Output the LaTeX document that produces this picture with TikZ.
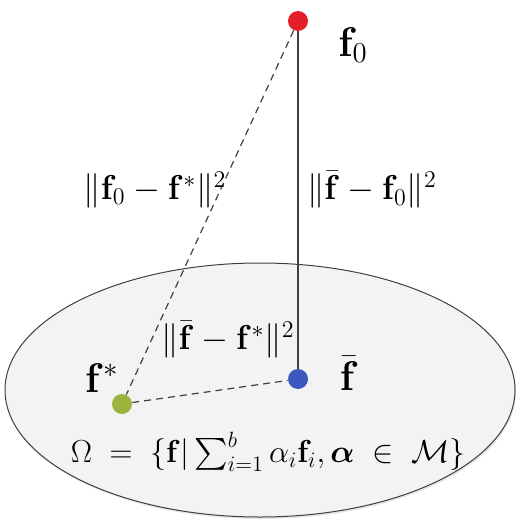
\documentclass[tikz,border=0pt]{standalone}
\usepackage{amsmath,amssymb,bm}
\definecolor{dotred}{HTML}{E3202A}
\definecolor{dotblue}{HTML}{3A58BE}
\definecolor{dotgreen}{HTML}{9AB43E}
\definecolor{planefill}{HTML}{F3F3F3}
\definecolor{lineg}{HTML}{404040}
\tikzset{
  pt/.style={circle,inner sep=0pt,minimum width=9pt,minimum height=10pt},
  lbl/.style={inner sep=0pt,font=\fontsize{17.28}{20}\selectfont},
  biglbl/.style={inner sep=0pt,font=\fontsize{20.74}{24}\selectfont},
  conn/.style={draw=lineg,line width=0.6pt},
  dconn/.style={conn,dashed,dash pattern=on 3.5pt off 2.5pt}
}
\begin{document}
\begin{tikzpicture}[x=0.5pt,y=-0.5pt]
\useasboundingbox (0,0) rectangle (530,530);
\fill[black!10] (261,392) ellipse [x radius=255,y radius=127];
\filldraw[fill=planefill,draw=lineg,line width=0.5pt] (260,390) ellipse [x radius=255,y radius=127];
\node[pt,fill=dotred] (f0) at (298,21) {};
\node[pt,fill=dotblue] (fb) at (298,379) {};
\node[pt,fill=dotgreen] (fs) at (122,404) {};
\draw[conn] (f0) -- (fb);
\draw[dconn] (f0) -- (fs);
\draw[dconn] (fs) -- (fb);
\node[biglbl] (lf0) at (353,45) {$\mathbf{f}_0$};
\node[biglbl] (lfb) at (349,373) {$\bar{\mathbf{f}}$};
\node[biglbl] (lfs) at (102,378) {$\mathbf{f}^*$};
\node[lbl] (d1) at (155,190) {$\|\mathbf{f}_0-\mathbf{f}^*\|^2$};
\node[lbl] (d2) at (372,190) {$\|\bar{\mathbf{f}}-\mathbf{f}_0\|^2$};
\node[lbl] (d3) at (228,340) {$\|\bar{\mathbf{f}}-\mathbf{f}^*\|^2$};
\node[lbl] (om) at (268,452) {\scalebox{0.92}{$\Omega\;=\;\{\mathbf{f}|\textstyle\sum_{i=1}^{b}\alpha_i\mathbf{f}_i,\bm{\alpha}\;\in\;\mathcal{M}\}$}};
\end{tikzpicture}
\end{document}
